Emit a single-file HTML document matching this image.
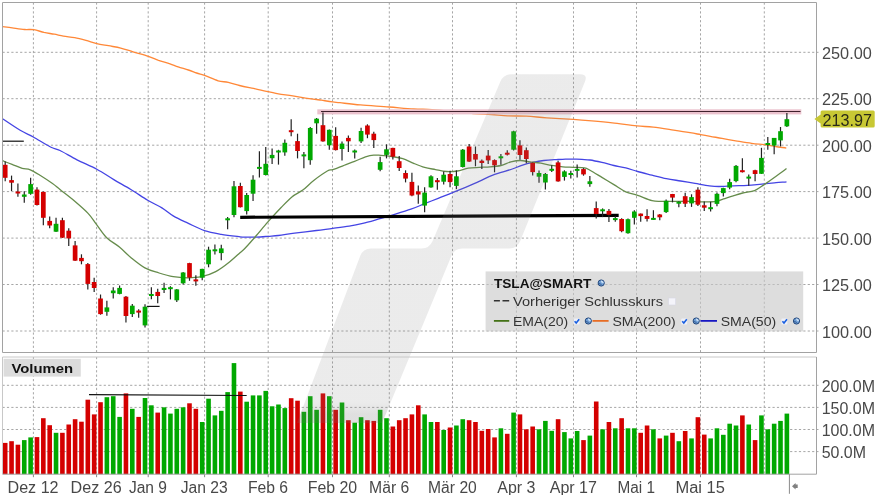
<!DOCTYPE html><html><head><meta charset="utf-8"><title>TSLA Chart</title>
<style>html,body{margin:0;padding:0;background:#fff;font-family:"Liberation Sans",sans-serif}svg{display:block;will-change:transform}</style></head><body>
<svg width="880" height="495" viewBox="0 0 880 495">
<defs><linearGradient id="wm" x1="0" y1="74" x2="0" y2="423" gradientUnits="userSpaceOnUse"><stop offset="0" stop-color="#808080" stop-opacity="0.155"/><stop offset="0.94" stop-color="#808080" stop-opacity="0.155"/><stop offset="0.975" stop-color="#707070" stop-opacity="0.22"/><stop offset="1" stop-color="#707070" stop-opacity="0.22"/></linearGradient></defs>
<rect width="880" height="495" fill="#fff"/>
<path d="M33.4 2.5V352.5M33.4 357.0V474.2M96.6 2.5V352.5M96.6 357.0V474.2M148.2 2.5V352.5M148.2 357.0V474.2M204.6 2.5V352.5M204.6 357.0V474.2M268.2 2.5V352.5M268.2 357.0V474.2M332.5 2.5V352.5M332.5 357.0V474.2M389.3 2.5V352.5M389.3 357.0V474.2M452.5 2.5V352.5M452.5 357.0V474.2M516.4 2.5V352.5M516.4 357.0V474.2M573.5 2.5V352.5M573.5 357.0V474.2M636.5 2.5V352.5M636.5 357.0V474.2M700.5 2.5V352.5M700.5 357.0V474.2M764.3 2.5V352.5M764.3 357.0V474.2M2.5 52.3H818.5M2.5 98.7H818.5M2.5 145.2H818.5M2.5 191.6H818.5M2.5 238.1H818.5M2.5 284.5H818.5M2.5 331.0H818.5M2.5 451.6H818.5M2.5 429.5H818.5M2.5 407.4H818.5M2.5 385.3H818.5" stroke="#a6a6a6" stroke-width="1" stroke-dasharray="2.2 2.2" fill="none"/>
<path d="M33.4 474.2v3M96.6 474.2v3M148.2 474.2v3M204.6 474.2v3M268.2 474.2v3M332.5 474.2v3M389.3 474.2v3M452.5 474.2v3M516.4 474.2v3M573.5 474.2v3M636.5 474.2v3M700.5 474.2v3" stroke="#888" stroke-width="1" fill="none"/>
<rect x="2.90" y="442.9" width="4.6" height="31.3" fill="#d40000"/>
<rect x="9.25" y="441.2" width="4.6" height="33.0" fill="#d40000"/>
<rect x="15.61" y="444.7" width="4.6" height="29.5" fill="#d40000"/>
<rect x="21.96" y="440.1" width="4.6" height="34.1" fill="#00a800"/>
<rect x="28.32" y="437.4" width="4.6" height="36.8" fill="#00a800"/>
<rect x="34.68" y="437.1" width="4.6" height="37.1" fill="#d40000"/>
<rect x="41.03" y="418.2" width="4.6" height="56.0" fill="#d40000"/>
<rect x="47.39" y="425.2" width="4.6" height="49.0" fill="#d40000"/>
<rect x="53.74" y="432.8" width="4.6" height="41.4" fill="#00a800"/>
<rect x="60.10" y="432.8" width="4.6" height="41.4" fill="#d40000"/>
<rect x="66.45" y="424.5" width="4.6" height="49.7" fill="#d40000"/>
<rect x="72.81" y="419.2" width="4.6" height="55.0" fill="#d40000"/>
<rect x="79.16" y="421.7" width="4.6" height="52.5" fill="#d40000"/>
<rect x="85.52" y="399.7" width="4.6" height="74.5" fill="#d40000"/>
<rect x="91.87" y="414.4" width="4.6" height="59.8" fill="#d40000"/>
<rect x="98.23" y="402.2" width="4.6" height="72.0" fill="#d40000"/>
<rect x="104.58" y="397.2" width="4.6" height="77.0" fill="#00a800"/>
<rect x="110.94" y="396.2" width="4.6" height="78.0" fill="#00a800"/>
<rect x="117.29" y="416.9" width="4.6" height="57.3" fill="#00a800"/>
<rect x="123.65" y="393.4" width="4.6" height="80.8" fill="#d40000"/>
<rect x="130.00" y="408.8" width="4.6" height="65.4" fill="#00a800"/>
<rect x="136.35" y="416.9" width="4.6" height="57.3" fill="#d40000"/>
<rect x="142.71" y="398.0" width="4.6" height="76.2" fill="#00a800"/>
<rect x="149.06" y="405.3" width="4.6" height="68.9" fill="#00a800"/>
<rect x="155.42" y="412.6" width="4.6" height="61.6" fill="#d40000"/>
<rect x="161.77" y="407.3" width="4.6" height="66.9" fill="#00a800"/>
<rect x="168.13" y="413.6" width="4.6" height="60.6" fill="#00a800"/>
<rect x="174.48" y="408.8" width="4.6" height="65.4" fill="#00a800"/>
<rect x="180.84" y="407.3" width="4.6" height="66.9" fill="#00a800"/>
<rect x="187.19" y="403.3" width="4.6" height="70.9" fill="#d40000"/>
<rect x="193.55" y="408.8" width="4.6" height="65.4" fill="#d40000"/>
<rect x="199.91" y="422.0" width="4.6" height="52.2" fill="#00a800"/>
<rect x="206.26" y="398.7" width="4.6" height="75.5" fill="#00a800"/>
<rect x="212.61" y="415.4" width="4.6" height="58.8" fill="#00a800"/>
<rect x="218.97" y="410.8" width="4.6" height="63.4" fill="#00a800"/>
<rect x="225.32" y="392.1" width="4.6" height="82.1" fill="#00a800"/>
<rect x="231.68" y="363.1" width="4.6" height="111.1" fill="#00a800"/>
<rect x="238.03" y="391.6" width="4.6" height="82.6" fill="#d40000"/>
<rect x="244.39" y="401.7" width="4.6" height="72.5" fill="#00a800"/>
<rect x="250.75" y="395.4" width="4.6" height="78.8" fill="#00a800"/>
<rect x="257.10" y="395.4" width="4.6" height="78.8" fill="#00a800"/>
<rect x="263.45" y="390.9" width="4.6" height="83.3" fill="#00a800"/>
<rect x="269.81" y="406.3" width="4.6" height="67.9" fill="#00a800"/>
<rect x="276.17" y="404.5" width="4.6" height="69.7" fill="#00a800"/>
<rect x="282.52" y="408.1" width="4.6" height="66.1" fill="#00a800"/>
<rect x="288.88" y="398.2" width="4.6" height="76.0" fill="#d40000"/>
<rect x="295.23" y="400.7" width="4.6" height="73.5" fill="#d40000"/>
<rect x="301.58" y="411.8" width="4.6" height="62.4" fill="#00a800"/>
<rect x="307.94" y="396.2" width="4.6" height="78.0" fill="#00a800"/>
<rect x="314.30" y="409.8" width="4.6" height="64.4" fill="#00a800"/>
<rect x="320.65" y="393.4" width="4.6" height="80.8" fill="#d40000"/>
<rect x="327.00" y="396.2" width="4.6" height="78.0" fill="#00a800"/>
<rect x="333.36" y="409.8" width="4.6" height="64.4" fill="#d40000"/>
<rect x="339.71" y="402.5" width="4.6" height="71.7" fill="#00a800"/>
<rect x="346.07" y="420.2" width="4.6" height="54.0" fill="#d40000"/>
<rect x="352.43" y="422.7" width="4.6" height="51.5" fill="#00a800"/>
<rect x="358.78" y="417.2" width="4.6" height="57.0" fill="#00a800"/>
<rect x="365.13" y="420.2" width="4.6" height="54.0" fill="#d40000"/>
<rect x="371.49" y="420.9" width="4.6" height="53.3" fill="#d40000"/>
<rect x="377.85" y="409.8" width="4.6" height="64.4" fill="#00a800"/>
<rect x="384.20" y="418.2" width="4.6" height="56.0" fill="#00a800"/>
<rect x="390.56" y="426.5" width="4.6" height="47.7" fill="#d40000"/>
<rect x="396.91" y="420.2" width="4.6" height="54.0" fill="#d40000"/>
<rect x="403.26" y="418.2" width="4.6" height="56.0" fill="#d40000"/>
<rect x="409.62" y="414.4" width="4.6" height="59.8" fill="#d40000"/>
<rect x="415.98" y="405.3" width="4.6" height="68.9" fill="#d40000"/>
<rect x="422.33" y="414.4" width="4.6" height="59.8" fill="#00a800"/>
<rect x="428.69" y="422.0" width="4.6" height="52.2" fill="#00a800"/>
<rect x="435.04" y="422.0" width="4.6" height="52.2" fill="#d40000"/>
<rect x="441.39" y="430.0" width="4.6" height="44.2" fill="#00a800"/>
<rect x="447.75" y="427.5" width="4.6" height="46.7" fill="#d40000"/>
<rect x="454.11" y="425.5" width="4.6" height="48.7" fill="#00a800"/>
<rect x="460.46" y="419.2" width="4.6" height="55.0" fill="#00a800"/>
<rect x="466.81" y="420.2" width="4.6" height="54.0" fill="#d40000"/>
<rect x="473.17" y="422.0" width="4.6" height="52.2" fill="#d40000"/>
<rect x="479.53" y="430.8" width="4.6" height="43.4" fill="#d40000"/>
<rect x="485.88" y="429.0" width="4.6" height="45.2" fill="#d40000"/>
<rect x="492.24" y="437.4" width="4.6" height="36.8" fill="#d40000"/>
<rect x="498.59" y="428.3" width="4.6" height="45.9" fill="#00a800"/>
<rect x="504.94" y="433.8" width="4.6" height="40.4" fill="#d40000"/>
<rect x="511.30" y="412.6" width="4.6" height="61.6" fill="#00a800"/>
<rect x="517.66" y="414.4" width="4.6" height="59.8" fill="#d40000"/>
<rect x="524.01" y="429.3" width="4.6" height="44.9" fill="#d40000"/>
<rect x="530.37" y="426.5" width="4.6" height="47.7" fill="#d40000"/>
<rect x="536.72" y="429.3" width="4.6" height="44.9" fill="#00a800"/>
<rect x="543.08" y="420.9" width="4.6" height="53.3" fill="#00a800"/>
<rect x="549.43" y="430.8" width="4.6" height="43.4" fill="#00a800"/>
<rect x="555.79" y="419.2" width="4.6" height="55.0" fill="#d40000"/>
<rect x="562.14" y="432.1" width="4.6" height="42.1" fill="#00a800"/>
<rect x="568.50" y="438.4" width="4.6" height="35.8" fill="#00a800"/>
<rect x="574.85" y="431.0" width="4.6" height="43.2" fill="#00a800"/>
<rect x="581.21" y="440.1" width="4.6" height="34.1" fill="#d40000"/>
<rect x="587.56" y="435.6" width="4.6" height="38.6" fill="#00a800"/>
<rect x="593.92" y="401.5" width="4.6" height="72.7" fill="#d40000"/>
<rect x="600.27" y="429.3" width="4.6" height="44.9" fill="#00a800"/>
<rect x="606.63" y="422.0" width="4.6" height="52.2" fill="#d40000"/>
<rect x="612.98" y="428.3" width="4.6" height="45.9" fill="#00a800"/>
<rect x="619.34" y="418.2" width="4.6" height="56.0" fill="#d40000"/>
<rect x="625.69" y="428.3" width="4.6" height="45.9" fill="#00a800"/>
<rect x="632.05" y="428.3" width="4.6" height="45.9" fill="#00a800"/>
<rect x="638.40" y="432.8" width="4.6" height="41.4" fill="#d40000"/>
<rect x="644.76" y="425.5" width="4.6" height="48.7" fill="#d40000"/>
<rect x="651.11" y="429.3" width="4.6" height="44.9" fill="#00a800"/>
<rect x="657.47" y="438.4" width="4.6" height="35.8" fill="#d40000"/>
<rect x="663.82" y="435.6" width="4.6" height="38.6" fill="#00a800"/>
<rect x="670.18" y="432.8" width="4.6" height="41.4" fill="#d40000"/>
<rect x="676.53" y="441.2" width="4.6" height="33.0" fill="#00a800"/>
<rect x="682.89" y="431.0" width="4.6" height="43.2" fill="#d40000"/>
<rect x="689.24" y="438.4" width="4.6" height="35.8" fill="#00a800"/>
<rect x="695.60" y="417.2" width="4.6" height="57.0" fill="#d40000"/>
<rect x="701.95" y="434.6" width="4.6" height="39.6" fill="#d40000"/>
<rect x="708.31" y="438.4" width="4.6" height="35.8" fill="#00a800"/>
<rect x="714.66" y="428.3" width="4.6" height="45.9" fill="#00a800"/>
<rect x="721.02" y="434.8" width="4.6" height="39.4" fill="#00a800"/>
<rect x="727.37" y="423.7" width="4.6" height="50.5" fill="#00a800"/>
<rect x="733.73" y="425.5" width="4.6" height="48.7" fill="#00a800"/>
<rect x="740.08" y="415.4" width="4.6" height="58.8" fill="#d40000"/>
<rect x="746.44" y="424.5" width="4.6" height="49.7" fill="#00a800"/>
<rect x="752.79" y="440.1" width="4.6" height="34.1" fill="#d40000"/>
<rect x="759.15" y="415.4" width="4.6" height="58.8" fill="#00a800"/>
<rect x="765.50" y="429.3" width="4.6" height="44.9" fill="#00a800"/>
<rect x="771.86" y="423.7" width="4.6" height="50.5" fill="#00a800"/>
<rect x="778.21" y="420.9" width="4.6" height="53.3" fill="#00a800"/>
<rect x="784.57" y="413.6" width="4.6" height="60.6" fill="#00a800"/>
<path d="M2.5 26.7C4.1 26.9 8.6 27.4 12.3 27.9C16.0 28.4 20.9 29.2 24.5 29.5C28.1 29.8 30.5 29.2 33.7 29.7C37.0 30.2 40.6 31.6 44.0 32.4C47.4 33.1 51.0 33.6 54.2 34.2C57.4 34.8 60.0 35.5 63.4 36.1C66.8 36.7 71.0 37.0 74.7 37.7C78.5 38.4 82.2 39.4 85.9 40.4C89.6 41.4 93.0 42.7 96.7 43.6C100.5 44.5 104.4 45.0 108.4 45.7C112.4 46.5 116.6 47.1 120.7 48.1C124.8 49.1 128.4 50.4 133.0 51.8C137.6 53.2 144.1 54.9 148.3 56.3C152.6 57.7 154.9 59.1 158.5 60.4C162.1 61.6 166.7 62.7 170.0 63.8C173.3 64.9 175.1 65.9 178.2 66.9C181.3 67.9 185.3 69.0 188.4 70.0C191.5 71.0 193.8 72.0 196.6 73.0C199.4 74.0 201.6 74.4 205.2 75.7C208.8 77.0 214.2 79.7 218.1 80.8C221.9 81.9 224.7 81.6 228.3 82.4C231.9 83.2 235.6 84.5 239.5 85.5C243.4 86.5 247.0 87.2 251.8 88.2C256.6 89.2 263.8 90.6 268.2 91.6C272.6 92.5 274.3 93.2 278.4 93.9C282.5 94.6 287.6 95.1 292.7 95.9C297.8 96.7 304.3 97.9 309.1 98.6C313.9 99.3 317.5 99.7 321.4 100.2C325.3 100.8 329.5 101.5 332.6 101.9C335.7 102.3 335.4 102.2 340.0 102.7C344.6 103.2 352.3 104.2 360.5 104.9C368.7 105.6 380.2 106.3 389.1 107.0C398.0 107.7 406.5 108.6 413.6 109.0C420.8 109.4 425.5 109.2 432.0 109.6C438.5 110.0 445.7 110.8 452.5 111.5C459.3 112.2 466.5 113.0 473.0 113.5C479.5 114.0 485.6 114.1 491.4 114.5C497.2 114.9 501.9 115.5 507.7 115.8C513.5 116.1 519.9 115.9 526.4 116.2C532.9 116.5 539.0 117.3 546.8 117.8C554.6 118.3 565.9 118.9 573.4 119.4C580.9 119.9 585.3 120.3 591.8 120.9C598.3 121.5 604.8 122.1 612.3 122.9C619.8 123.7 630.0 125.1 636.8 125.8C643.6 126.5 647.1 126.5 653.2 127.2C659.3 127.9 667.5 129.2 673.6 130.1C679.7 131.0 685.5 131.9 690.0 132.7C694.5 133.4 697.3 134.0 700.7 134.6C704.1 135.2 706.7 135.7 710.2 136.3C713.8 136.9 717.8 137.7 722.0 138.4C726.2 139.2 730.8 140.0 735.7 140.8C740.6 141.6 746.8 142.7 751.6 143.3C756.4 144.0 760.3 144.2 764.3 144.7C768.3 145.2 771.8 145.9 775.5 146.5C779.2 147.1 784.5 147.8 786.3 148.1" stroke="#ff8838" stroke-width="1.35" fill="none" stroke-linejoin="round"/>
<path d="M2.5 118.7C5.4 120.6 15.1 127.3 20.2 130.3C25.3 133.4 28.2 134.2 33.3 137.0C38.3 139.8 46.0 144.8 50.5 147.0C55.0 149.2 55.6 148.4 60.0 150.5C64.4 152.6 70.9 156.7 77.0 159.8C83.1 162.9 90.7 165.9 96.8 169.2C102.9 172.5 108.1 176.2 113.8 179.6C119.5 183.0 125.2 186.1 130.8 189.5C136.5 192.9 142.5 197.2 147.7 200.3C152.9 203.4 157.7 205.3 161.9 207.9C166.2 210.5 168.9 213.4 173.2 215.9C177.4 218.4 182.2 220.5 187.4 222.9C192.6 225.3 198.8 228.7 204.4 230.6C210.1 232.5 215.4 233.3 221.3 234.3C227.2 235.3 236.0 236.3 240.0 236.8C244.0 237.3 242.8 237.1 245.5 237.1C248.2 237.1 252.7 237.2 256.4 237.1C260.1 237.0 264.2 236.6 267.9 236.3C271.5 236.0 273.9 236.0 278.3 235.5C282.8 235.0 288.2 234.0 294.6 233.2C301.0 232.4 310.0 231.3 316.4 230.5C322.8 229.7 327.3 229.0 332.8 228.3C338.3 227.6 344.2 226.9 349.2 226.1C354.2 225.3 357.7 224.6 362.8 223.4C367.9 222.2 375.6 219.9 380.0 218.7C384.4 217.5 384.0 217.6 389.1 216.0C394.2 214.4 405.0 211.2 410.9 209.2C416.8 207.1 420.1 205.5 424.6 203.7C429.2 201.9 433.6 200.1 438.2 198.3C442.8 196.5 447.3 194.6 451.9 192.8C456.4 191.0 460.9 189.2 465.5 187.3C470.1 185.4 474.6 183.3 479.2 181.3C483.8 179.3 487.5 177.1 492.8 175.1C498.1 173.1 506.1 171.1 510.9 169.5C515.7 167.9 518.1 166.6 521.8 165.4C525.4 164.2 529.1 163.2 532.8 162.4C536.4 161.6 540.1 160.9 543.7 160.5C547.3 160.1 551.0 159.9 554.6 159.7C558.2 159.5 562.3 159.2 565.5 159.1C568.7 159.0 571.0 159.0 573.7 159.1C576.4 159.2 579.2 159.2 581.9 159.4C584.6 159.6 586.7 159.5 590.0 160.0C593.3 160.5 597.9 161.5 601.9 162.4C605.9 163.3 609.9 164.6 613.9 165.5C617.9 166.4 621.8 166.9 625.8 167.9C629.8 168.9 633.3 170.3 637.7 171.5C642.1 172.7 647.2 173.9 652.0 175.1C656.8 176.3 661.6 177.6 666.4 178.6C671.2 179.6 675.9 180.2 680.7 181.0C685.5 181.8 690.2 182.6 695.0 183.4C699.8 184.2 705.3 185.3 709.3 185.8C713.3 186.3 714.9 186.5 718.9 186.5C722.9 186.5 728.4 186.0 733.2 185.8C738.0 185.6 742.7 185.6 747.5 185.3C752.3 185.0 757.0 184.5 761.8 184.1C766.6 183.7 772.0 183.1 776.1 182.7C780.2 182.3 784.8 182.0 786.5 181.8" stroke="#4444e4" stroke-width="1.3" fill="none" stroke-linejoin="round"/>
<path d="M2.4 160.7C4.0 161.3 8.8 163.0 12.1 164.3C15.4 165.6 19.2 167.5 22.2 168.4C25.2 169.3 27.3 168.6 30.3 169.8C33.3 171.0 36.7 173.2 40.4 175.5C44.1 177.8 49.2 181.2 52.5 183.5C55.8 185.8 56.4 186.6 60.0 189.5C63.6 192.4 69.5 196.8 74.2 200.8C78.9 204.8 84.5 209.6 88.3 213.6C92.1 217.6 93.7 220.9 96.8 224.9C99.9 228.9 102.9 234.0 106.7 237.7C110.5 241.4 115.4 243.7 119.4 247.0C123.4 250.3 126.6 254.0 130.8 257.5C135.1 261.0 140.2 265.3 144.9 267.9C149.6 270.5 154.4 271.5 159.1 273.0C163.8 274.5 168.5 275.9 173.2 276.7C177.9 277.5 182.7 277.8 187.4 277.8C192.1 277.8 196.8 277.7 201.5 276.7C206.2 275.7 211.0 274.1 215.7 271.6C220.4 269.1 225.8 264.9 229.8 261.7C233.9 258.5 237.4 255.0 240.0 252.7C242.6 250.4 242.8 250.7 245.5 247.8C248.2 244.9 252.7 239.8 256.4 235.5C260.1 231.2 263.8 226.5 267.9 221.9C272.0 217.3 276.9 212.0 280.9 207.8C284.9 203.6 288.2 199.9 291.9 196.9C295.5 193.9 299.2 192.8 302.8 190.1C306.4 187.4 309.6 183.7 313.7 180.5C317.8 177.3 324.1 172.8 327.3 171.0C330.5 169.2 330.1 170.5 332.8 169.6C335.5 168.7 340.1 166.9 343.7 165.5C347.3 164.1 351.0 162.8 354.6 161.4C358.2 160.0 362.3 157.9 365.5 156.8C368.7 155.8 371.1 155.3 373.7 155.1C376.3 154.9 377.9 155.2 380.9 155.4C383.9 155.6 388.1 155.9 391.8 156.5C395.5 157.1 399.2 157.6 402.8 158.7C406.4 159.8 410.1 161.9 413.7 163.3C417.3 164.8 421.0 166.4 424.6 167.4C428.2 168.4 431.9 168.9 435.5 169.6C439.1 170.3 442.8 171.3 446.4 171.5C450.0 171.7 453.6 171.6 457.3 171.0C461.0 170.4 464.7 168.8 468.3 168.2C471.9 167.6 475.6 167.6 479.2 167.4C482.8 167.2 486.5 167.2 490.1 166.9C493.7 166.6 497.5 166.3 501.0 165.5C504.5 164.7 507.6 162.7 510.9 161.9C514.1 161.1 517.3 160.5 520.5 160.5C523.7 160.5 526.6 161.5 530.0 161.9C533.4 162.3 537.2 162.6 540.9 163.2C544.5 163.8 548.2 164.8 551.9 165.4C555.5 166.0 559.2 166.5 562.8 166.8C566.4 167.1 570.1 167.1 573.7 167.3C577.3 167.5 581.9 167.4 584.6 167.9C587.3 168.4 587.1 168.7 590.0 170.3C592.9 171.9 597.9 175.0 601.9 177.4C605.9 179.8 609.9 182.2 613.9 184.6C617.9 187.0 621.8 190.0 625.8 191.8C629.8 193.6 633.3 193.8 637.7 195.3C642.1 196.8 648.0 199.6 652.0 200.6C656.0 201.6 657.6 201.2 661.6 201.3C665.6 201.4 671.1 201.3 675.9 201.3C680.7 201.3 685.4 201.2 690.2 201.3C695.0 201.4 700.1 201.8 704.5 201.8C708.9 201.8 713.3 201.8 716.5 201.3C719.7 200.8 720.8 199.8 723.6 198.9C726.4 198.0 730.0 196.8 733.2 195.8C736.4 194.8 739.1 193.9 742.7 193.0C746.3 192.1 751.0 192.0 754.6 190.6C758.2 189.2 760.6 187.0 764.2 184.6C767.8 182.2 772.4 179.0 776.1 176.3C779.8 173.6 784.8 169.9 786.5 168.6" stroke="#668c4c" stroke-width="1.3" fill="none" stroke-linejoin="round"/>
<rect x="317.3" y="109.3" width="484" height="5.1" fill="#ebc2ce"/>
<path d="M321 111.5H800.5" stroke="#40202c" stroke-width="1.2"/>
<path d="M240.2 217.3L618.7 215.4" stroke="#000" stroke-width="3.2"/>
<path d="M2.5 141.2H23.8" stroke="#111" stroke-width="1.2"/>
<path d="M146.8 306.4H159.6" stroke="#111" stroke-width="1.2"/>
<path d="M89 394.6L246.7 395.5" stroke="#111" stroke-width="1.2"/>
<path d="M5.20 161.4V181.3" stroke="#222" stroke-width="1.2"/>
<rect x="2.85" y="164.8" width="4.7" height="13.0" fill="#d40000"/>
<path d="M11.55 175.6V191.0" stroke="#222" stroke-width="1.2"/>
<rect x="9.21" y="180.1" width="4.7" height="2.6" fill="#d40000"/>
<path d="M17.91 183.5V196.8" stroke="#222" stroke-width="1.2"/>
<rect x="15.56" y="191.5" width="4.7" height="2.0" fill="#d40000"/>
<path d="M24.27 191.3V202.7" stroke="#222" stroke-width="1.2"/>
<rect x="21.91" y="194.5" width="4.7" height="2.3" fill="#00a800"/>
<path d="M30.62 177.7V194.7" stroke="#222" stroke-width="1.2"/>
<rect x="28.27" y="184.1" width="4.7" height="9.7" fill="#00a800"/>
<path d="M36.98 187.2V205.5" stroke="#222" stroke-width="1.2"/>
<rect x="34.62" y="189.6" width="4.7" height="15.4" fill="#d40000"/>
<path d="M43.33 191.6V225.3" stroke="#222" stroke-width="1.2"/>
<rect x="40.98" y="191.9" width="4.7" height="25.9" fill="#d40000"/>
<path d="M49.69 216.5V228.2" stroke="#222" stroke-width="1.2"/>
<rect x="47.34" y="220.9" width="4.7" height="4.6" fill="#d40000"/>
<path d="M56.04 217.8V232.0" stroke="#222" stroke-width="1.2"/>
<rect x="53.69" y="223.8" width="4.7" height="7.9" fill="#00a800"/>
<path d="M62.40 217.7V238.0" stroke="#222" stroke-width="1.2"/>
<rect x="60.05" y="220.2" width="4.7" height="17.5" fill="#d40000"/>
<path d="M68.75 228.3V245.9" stroke="#222" stroke-width="1.2"/>
<rect x="66.40" y="230.7" width="4.7" height="7.7" fill="#d40000"/>
<path d="M75.11 240.9V261.0" stroke="#222" stroke-width="1.2"/>
<rect x="72.76" y="245.4" width="4.7" height="15.3" fill="#d40000"/>
<path d="M81.46 254.3V264.3" stroke="#222" stroke-width="1.2"/>
<rect x="79.11" y="257.9" width="4.7" height="3.3" fill="#d40000"/>
<path d="M87.82 262.9V289.6" stroke="#222" stroke-width="1.2"/>
<rect x="85.47" y="264.1" width="4.7" height="19.8" fill="#d40000"/>
<path d="M94.17 277.8V291.9" stroke="#222" stroke-width="1.2"/>
<rect x="91.82" y="282.0" width="4.7" height="6.0" fill="#d40000"/>
<path d="M100.53 294.5V314.7" stroke="#222" stroke-width="1.2"/>
<rect x="98.18" y="298.5" width="4.7" height="15.6" fill="#d40000"/>
<path d="M106.88 300.8V315.7" stroke="#222" stroke-width="1.2"/>
<rect x="104.53" y="307.4" width="4.7" height="4.4" fill="#00a800"/>
<path d="M113.24 287.2V298.5" stroke="#222" stroke-width="1.2"/>
<rect x="110.89" y="290.5" width="4.7" height="2.7" fill="#00a800"/>
<path d="M119.59 285.5V294.3" stroke="#222" stroke-width="1.2"/>
<rect x="117.24" y="287.9" width="4.7" height="6.0" fill="#00a800"/>
<path d="M125.95 296.1V322.4" stroke="#222" stroke-width="1.2"/>
<rect x="123.60" y="296.7" width="4.7" height="19.3" fill="#d40000"/>
<path d="M132.30 303.9V317.0" stroke="#222" stroke-width="1.2"/>
<rect x="129.95" y="305.7" width="4.7" height="8.4" fill="#00a800"/>
<path d="M138.66 309.2V317.7" stroke="#222" stroke-width="1.2"/>
<rect x="136.31" y="310.6" width="4.7" height="2.0" fill="#d40000"/>
<path d="M145.01 304.3V327.6" stroke="#222" stroke-width="1.2"/>
<rect x="142.66" y="306.7" width="4.7" height="18.7" fill="#00a800"/>
<path d="M151.37 287.3V299.2" stroke="#222" stroke-width="1.2"/>
<rect x="149.02" y="294.0" width="4.7" height="2.0" fill="#00a800"/>
<path d="M157.72 288.7V303.3" stroke="#222" stroke-width="1.2"/>
<rect x="155.37" y="291.9" width="4.7" height="4.1" fill="#d40000"/>
<path d="M164.07 282.8V292.9" stroke="#222" stroke-width="1.2"/>
<rect x="161.72" y="287.9" width="4.7" height="2.1" fill="#00a800"/>
<path d="M170.43 286.2V299.4" stroke="#222" stroke-width="1.2"/>
<rect x="168.08" y="287.2" width="4.7" height="2.0" fill="#00a800"/>
<path d="M176.78 289.0V302.0" stroke="#222" stroke-width="1.2"/>
<rect x="174.44" y="289.4" width="4.7" height="10.9" fill="#00a800"/>
<path d="M183.14 272.1V284.5" stroke="#222" stroke-width="1.2"/>
<rect x="180.79" y="272.5" width="4.7" height="10.8" fill="#00a800"/>
<path d="M189.50 262.8V280.8" stroke="#222" stroke-width="1.2"/>
<rect x="187.15" y="263.1" width="4.7" height="14.5" fill="#d40000"/>
<path d="M195.85 275.3V285.8" stroke="#222" stroke-width="1.2"/>
<rect x="193.50" y="279.4" width="4.7" height="2.0" fill="#d40000"/>
<path d="M202.21 268.7V280.2" stroke="#222" stroke-width="1.2"/>
<rect x="199.86" y="268.9" width="4.7" height="8.8" fill="#00a800"/>
<path d="M208.56 246.7V267.3" stroke="#222" stroke-width="1.2"/>
<rect x="206.21" y="249.7" width="4.7" height="14.6" fill="#00a800"/>
<path d="M214.91 244.6V254.6" stroke="#222" stroke-width="1.2"/>
<rect x="212.56" y="249.3" width="4.7" height="2.0" fill="#00a800"/>
<path d="M221.27 244.8V260.3" stroke="#222" stroke-width="1.2"/>
<rect x="218.92" y="248.4" width="4.7" height="4.7" fill="#00a800"/>
<path d="M227.62 216.9V229.3" stroke="#222" stroke-width="1.2"/>
<rect x="225.28" y="218.3" width="4.7" height="2.0" fill="#00a800"/>
<path d="M233.98 181.1V217.3" stroke="#222" stroke-width="1.2"/>
<rect x="231.63" y="186.3" width="4.7" height="28.7" fill="#00a800"/>
<path d="M240.34 182.8V207.4" stroke="#222" stroke-width="1.2"/>
<rect x="237.99" y="186.0" width="4.7" height="21.2" fill="#d40000"/>
<path d="M246.69 193.0V214.4" stroke="#222" stroke-width="1.2"/>
<rect x="244.34" y="195.0" width="4.7" height="16.1" fill="#00a800"/>
<path d="M253.05 175.3V201.1" stroke="#222" stroke-width="1.2"/>
<rect x="250.70" y="179.7" width="4.7" height="14.0" fill="#00a800"/>
<path d="M259.40 151.2V177.5" stroke="#222" stroke-width="1.2"/>
<rect x="257.05" y="166.9" width="4.7" height="2.0" fill="#00a800"/>
<path d="M265.75 147.1V175.5" stroke="#222" stroke-width="1.2"/>
<rect x="263.40" y="163.8" width="4.7" height="11.2" fill="#00a800"/>
<path d="M272.11 148.6V163.9" stroke="#222" stroke-width="1.2"/>
<rect x="269.76" y="154.9" width="4.7" height="3.3" fill="#00a800"/>
<path d="M278.47 149.8V164.6" stroke="#222" stroke-width="1.2"/>
<rect x="276.12" y="150.5" width="4.7" height="2.0" fill="#00a800"/>
<path d="M284.82 139.6V155.8" stroke="#222" stroke-width="1.2"/>
<rect x="282.47" y="142.8" width="4.7" height="9.6" fill="#00a800"/>
<path d="M291.18 119.2V136.3" stroke="#222" stroke-width="1.2"/>
<rect x="288.82" y="130.2" width="4.7" height="2.0" fill="#d40000"/>
<path d="M297.53 133.7V158.4" stroke="#222" stroke-width="1.2"/>
<rect x="295.18" y="141.1" width="4.7" height="9.9" fill="#d40000"/>
<path d="M303.88 152.1V168.2" stroke="#222" stroke-width="1.2"/>
<rect x="301.53" y="154.4" width="4.7" height="2.0" fill="#00a800"/>
<path d="M310.24 127.0V164.8" stroke="#222" stroke-width="1.2"/>
<rect x="307.89" y="128.0" width="4.7" height="32.2" fill="#00a800"/>
<path d="M316.60 118.0V133.8" stroke="#222" stroke-width="1.2"/>
<rect x="314.25" y="118.7" width="4.7" height="4.6" fill="#00a800"/>
<path d="M322.95 112.4V141.8" stroke="#222" stroke-width="1.2"/>
<rect x="320.60" y="125.2" width="4.7" height="16.2" fill="#d40000"/>
<path d="M329.31 129.5V149.8" stroke="#222" stroke-width="1.2"/>
<rect x="326.95" y="129.8" width="4.7" height="15.5" fill="#00a800"/>
<path d="M335.66 127.2V150.4" stroke="#222" stroke-width="1.2"/>
<rect x="333.31" y="135.9" width="4.7" height="14.2" fill="#d40000"/>
<path d="M342.01 141.5V160.5" stroke="#222" stroke-width="1.2"/>
<rect x="339.66" y="143.6" width="4.7" height="5.4" fill="#00a800"/>
<path d="M348.37 135.6V152.0" stroke="#222" stroke-width="1.2"/>
<rect x="346.02" y="137.9" width="4.7" height="3.4" fill="#d40000"/>
<path d="M354.73 149.5V158.6" stroke="#222" stroke-width="1.2"/>
<rect x="352.38" y="150.5" width="4.7" height="2.0" fill="#00a800"/>
<path d="M361.08 127.7V142.9" stroke="#222" stroke-width="1.2"/>
<rect x="358.73" y="131.0" width="4.7" height="10.4" fill="#00a800"/>
<path d="M367.44 124.3V138.2" stroke="#222" stroke-width="1.2"/>
<rect x="365.08" y="125.5" width="4.7" height="9.1" fill="#d40000"/>
<path d="M373.79 131.8V147.9" stroke="#222" stroke-width="1.2"/>
<rect x="371.44" y="133.7" width="4.7" height="6.4" fill="#d40000"/>
<path d="M380.15 156.8V171.2" stroke="#222" stroke-width="1.2"/>
<rect x="377.80" y="162.1" width="4.7" height="7.7" fill="#00a800"/>
<path d="M386.50 144.3V158.4" stroke="#222" stroke-width="1.2"/>
<rect x="384.15" y="149.3" width="4.7" height="5.6" fill="#00a800"/>
<path d="M392.86 147.8V159.5" stroke="#222" stroke-width="1.2"/>
<rect x="390.50" y="147.9" width="4.7" height="8.8" fill="#d40000"/>
<path d="M399.21 156.0V171.0" stroke="#222" stroke-width="1.2"/>
<rect x="396.86" y="161.2" width="4.7" height="6.8" fill="#d40000"/>
<path d="M405.56 170.3V182.4" stroke="#222" stroke-width="1.2"/>
<rect x="403.21" y="173.0" width="4.7" height="5.6" fill="#d40000"/>
<path d="M411.92 172.7V196.3" stroke="#222" stroke-width="1.2"/>
<rect x="409.57" y="181.9" width="4.7" height="13.6" fill="#d40000"/>
<path d="M418.28 185.5V203.8" stroke="#222" stroke-width="1.2"/>
<rect x="415.93" y="191.4" width="4.7" height="3.1" fill="#d40000"/>
<path d="M424.63 187.3V212.3" stroke="#222" stroke-width="1.2"/>
<rect x="422.28" y="192.6" width="4.7" height="13.0" fill="#00a800"/>
<path d="M430.99 175.3V187.7" stroke="#222" stroke-width="1.2"/>
<rect x="428.63" y="176.3" width="4.7" height="11.1" fill="#00a800"/>
<path d="M437.34 178.0V189.7" stroke="#222" stroke-width="1.2"/>
<rect x="434.99" y="180.2" width="4.7" height="2.0" fill="#d40000"/>
<path d="M443.69 171.6V184.5" stroke="#222" stroke-width="1.2"/>
<rect x="441.34" y="174.7" width="4.7" height="7.0" fill="#00a800"/>
<path d="M450.05 170.8V187.3" stroke="#222" stroke-width="1.2"/>
<rect x="447.70" y="174.0" width="4.7" height="8.1" fill="#d40000"/>
<path d="M456.41 170.4V189.1" stroke="#222" stroke-width="1.2"/>
<rect x="454.06" y="176.3" width="4.7" height="9.6" fill="#00a800"/>
<path d="M462.76 148.9V167.4" stroke="#222" stroke-width="1.2"/>
<rect x="460.41" y="149.7" width="4.7" height="17.3" fill="#00a800"/>
<path d="M469.12 144.0V162.0" stroke="#222" stroke-width="1.2"/>
<rect x="466.76" y="146.5" width="4.7" height="15.1" fill="#d40000"/>
<path d="M475.47 146.5V166.3" stroke="#222" stroke-width="1.2"/>
<rect x="473.12" y="154.0" width="4.7" height="5.6" fill="#d40000"/>
<path d="M481.83 159.4V169.1" stroke="#222" stroke-width="1.2"/>
<rect x="479.48" y="160.7" width="4.7" height="2.3" fill="#d40000"/>
<path d="M488.18 150.0V163.9" stroke="#222" stroke-width="1.2"/>
<rect x="485.83" y="155.6" width="4.7" height="4.8" fill="#d40000"/>
<path d="M494.54 159.4V172.3" stroke="#222" stroke-width="1.2"/>
<rect x="492.19" y="160.1" width="4.7" height="5.2" fill="#d40000"/>
<path d="M500.89 154.0V164.8" stroke="#222" stroke-width="1.2"/>
<rect x="498.54" y="156.3" width="4.7" height="2.0" fill="#00a800"/>
<path d="M507.25 150.2V155.6" stroke="#222" stroke-width="1.2"/>
<rect x="504.89" y="152.7" width="4.7" height="2.0" fill="#d40000"/>
<path d="M513.60 130.7V150.4" stroke="#222" stroke-width="1.2"/>
<rect x="511.25" y="131.3" width="4.7" height="18.4" fill="#00a800"/>
<path d="M519.96 140.2V159.7" stroke="#222" stroke-width="1.2"/>
<rect x="517.61" y="145.4" width="4.7" height="9.6" fill="#d40000"/>
<path d="M526.31 147.5V163.2" stroke="#222" stroke-width="1.2"/>
<rect x="523.96" y="150.2" width="4.7" height="8.8" fill="#d40000"/>
<path d="M532.67 162.5V175.4" stroke="#222" stroke-width="1.2"/>
<rect x="530.32" y="162.8" width="4.7" height="9.3" fill="#d40000"/>
<path d="M539.02 170.5V182.8" stroke="#222" stroke-width="1.2"/>
<rect x="536.67" y="173.0" width="4.7" height="3.7" fill="#00a800"/>
<path d="M545.38 172.9V189.6" stroke="#222" stroke-width="1.2"/>
<rect x="543.03" y="174.0" width="4.7" height="8.5" fill="#00a800"/>
<path d="M551.73 165.3V171.9" stroke="#222" stroke-width="1.2"/>
<rect x="549.38" y="168.8" width="4.7" height="2.0" fill="#00a800"/>
<path d="M558.09 160.8V181.8" stroke="#222" stroke-width="1.2"/>
<rect x="555.74" y="162.4" width="4.7" height="19.0" fill="#d40000"/>
<path d="M564.44 170.3V180.6" stroke="#222" stroke-width="1.2"/>
<rect x="562.09" y="171.4" width="4.7" height="5.5" fill="#00a800"/>
<path d="M570.80 170.7V178.6" stroke="#222" stroke-width="1.2"/>
<rect x="568.45" y="173.0" width="4.7" height="2.0" fill="#00a800"/>
<path d="M577.15 164.4V177.4" stroke="#222" stroke-width="1.2"/>
<rect x="574.80" y="168.9" width="4.7" height="2.0" fill="#00a800"/>
<path d="M583.51 168.1V175.7" stroke="#222" stroke-width="1.2"/>
<rect x="581.16" y="169.1" width="4.7" height="5.3" fill="#d40000"/>
<path d="M589.86 175.9V186.7" stroke="#222" stroke-width="1.2"/>
<rect x="587.51" y="181.3" width="4.7" height="2.8" fill="#00a800"/>
<path d="M596.22 201.5V218.5" stroke="#222" stroke-width="1.2"/>
<rect x="593.87" y="208.1" width="4.7" height="5.9" fill="#d40000"/>
<path d="M602.57 208.4V217.1" stroke="#222" stroke-width="1.2"/>
<rect x="600.22" y="209.3" width="4.7" height="2.0" fill="#00a800"/>
<path d="M608.93 209.0V222.1" stroke="#222" stroke-width="1.2"/>
<rect x="606.58" y="210.9" width="4.7" height="3.9" fill="#d40000"/>
<path d="M615.28 215.9V221.8" stroke="#222" stroke-width="1.2"/>
<rect x="612.93" y="218.1" width="4.7" height="2.0" fill="#00a800"/>
<path d="M621.64 218.3V232.3" stroke="#222" stroke-width="1.2"/>
<rect x="619.29" y="219.0" width="4.7" height="12.2" fill="#d40000"/>
<path d="M627.99 218.6V233.7" stroke="#222" stroke-width="1.2"/>
<rect x="625.64" y="219.2" width="4.7" height="14.0" fill="#00a800"/>
<path d="M634.35 210.2V224.5" stroke="#222" stroke-width="1.2"/>
<rect x="632.00" y="211.5" width="4.7" height="6.3" fill="#00a800"/>
<path d="M640.70 213.4V221.7" stroke="#222" stroke-width="1.2"/>
<rect x="638.35" y="213.6" width="4.7" height="2.5" fill="#d40000"/>
<path d="M647.06 209.3V221.5" stroke="#222" stroke-width="1.2"/>
<rect x="644.71" y="216.0" width="4.7" height="2.9" fill="#d40000"/>
<path d="M653.41 210.2V219.7" stroke="#222" stroke-width="1.2"/>
<rect x="651.06" y="217.9" width="4.7" height="2.0" fill="#00a800"/>
<path d="M659.77 214.0V220.2" stroke="#222" stroke-width="1.2"/>
<rect x="657.42" y="214.5" width="4.7" height="2.8" fill="#d40000"/>
<path d="M666.12 199.5V213.0" stroke="#222" stroke-width="1.2"/>
<rect x="663.77" y="200.8" width="4.7" height="11.3" fill="#00a800"/>
<path d="M672.48 193.9V202.4" stroke="#222" stroke-width="1.2"/>
<rect x="670.13" y="194.0" width="4.7" height="3.6" fill="#d40000"/>
<path d="M678.83 201.3V207.3" stroke="#222" stroke-width="1.2"/>
<rect x="676.48" y="201.7" width="4.7" height="2.0" fill="#00a800"/>
<path d="M685.19 192.7V207.1" stroke="#222" stroke-width="1.2"/>
<rect x="682.84" y="196.2" width="4.7" height="7.5" fill="#d40000"/>
<path d="M691.54 194.3V206.9" stroke="#222" stroke-width="1.2"/>
<rect x="689.19" y="197.1" width="4.7" height="6.3" fill="#00a800"/>
<path d="M697.90 187.2V206.1" stroke="#222" stroke-width="1.2"/>
<rect x="695.55" y="189.7" width="4.7" height="15.0" fill="#d40000"/>
<path d="M704.25 201.4V211.1" stroke="#222" stroke-width="1.2"/>
<rect x="701.90" y="205.3" width="4.7" height="2.4" fill="#d40000"/>
<path d="M710.61 201.8V211.4" stroke="#222" stroke-width="1.2"/>
<rect x="708.26" y="207.2" width="4.7" height="2.0" fill="#00a800"/>
<path d="M716.96 192.6V206.2" stroke="#222" stroke-width="1.2"/>
<rect x="714.61" y="193.8" width="4.7" height="10.1" fill="#00a800"/>
<path d="M723.32 187.8V196.4" stroke="#222" stroke-width="1.2"/>
<rect x="720.97" y="188.1" width="4.7" height="5.0" fill="#00a800"/>
<path d="M729.67 178.7V189.2" stroke="#222" stroke-width="1.2"/>
<rect x="727.32" y="182.1" width="4.7" height="5.5" fill="#00a800"/>
<path d="M736.03 165.0V182.2" stroke="#222" stroke-width="1.2"/>
<rect x="733.68" y="165.9" width="4.7" height="15.2" fill="#00a800"/>
<path d="M742.38 158.3V172.6" stroke="#222" stroke-width="1.2"/>
<rect x="740.03" y="170.2" width="4.7" height="2.0" fill="#d40000"/>
<path d="M748.74 174.5V185.7" stroke="#222" stroke-width="1.2"/>
<rect x="746.39" y="176.6" width="4.7" height="2.0" fill="#00a800"/>
<path d="M755.09 169.8V181.3" stroke="#222" stroke-width="1.2"/>
<rect x="752.74" y="170.2" width="4.7" height="3.8" fill="#d40000"/>
<path d="M761.45 147.8V173.9" stroke="#222" stroke-width="1.2"/>
<rect x="759.10" y="157.9" width="4.7" height="15.9" fill="#00a800"/>
<path d="M767.80 136.9V149.8" stroke="#222" stroke-width="1.2"/>
<rect x="765.45" y="143.0" width="4.7" height="2.0" fill="#00a800"/>
<path d="M774.16 137.9V154.3" stroke="#222" stroke-width="1.2"/>
<rect x="771.81" y="137.9" width="4.7" height="7.7" fill="#00a800"/>
<path d="M780.51 127.0V146.4" stroke="#222" stroke-width="1.2"/>
<rect x="778.16" y="131.2" width="4.7" height="9.2" fill="#00a800"/>
<path d="M786.87 113.1V127.1" stroke="#222" stroke-width="1.2"/>
<rect x="784.52" y="119.2" width="4.7" height="7.1" fill="#00a800"/>
<path d="M500.4 81.6Q503.5 74.2 511.5 74.2L580.0 74.2Q588.0 74.2 585.0 81.6L520.2 241.1Q517.2 248.5 509.2 248.5L462.5 248.5Q454.5 248.5 451.4 255.9L382.1 423.0L297.0 423.0L360.2 256.0Q363.0 248.5 371.0 248.5L421.5 248.5Q429.5 248.5 432.6 241.1Z" fill="url(#wm)"/>
<path d="M2.5 352.5V2.5H816.5" stroke="#a2a2a2" stroke-width="1" fill="none"/>
<path d="M2.5 352.5H816.5V2.5" stroke="#a2a2a2" stroke-width="1" fill="none"/>
<path d="M2.5 474.2V357.0H816.5" stroke="#c8c8c8" stroke-width="1" fill="none"/>
<path d="M2.5 474.2H816.5V357.0" stroke="#a2a2a2" stroke-width="1" fill="none"/>
<path d="M789.4 474.2V493.8" stroke="#8a8a8a" stroke-width="1"/>
<path d="M792 486.2L795.6 482.9V484.5H797.7V487.9H795.6V489.5Z" fill="#808080"/>
<rect x="3.6" y="358.8" width="77.2" height="17.8" fill="#dcdcdc"/>
<text x="11.4" y="372.8" font-family="Liberation Sans, sans-serif" font-weight="bold" font-size="12.2" fill="#111" textLength="61.8" lengthAdjust="spacingAndGlyphs">Volumen</text>
<text x="822" y="58.8" font-family="Liberation Sans, sans-serif" font-size="15.6" fill="#484848" textLength="49.8" lengthAdjust="spacingAndGlyphs">250.00</text>
<text x="822" y="105.2" font-family="Liberation Sans, sans-serif" font-size="15.6" fill="#484848" textLength="49.8" lengthAdjust="spacingAndGlyphs">225.00</text>
<text x="822" y="151.7" font-family="Liberation Sans, sans-serif" font-size="15.6" fill="#484848" textLength="49.8" lengthAdjust="spacingAndGlyphs">200.00</text>
<text x="822" y="198.1" font-family="Liberation Sans, sans-serif" font-size="15.6" fill="#484848" textLength="49.8" lengthAdjust="spacingAndGlyphs">175.00</text>
<text x="822" y="244.6" font-family="Liberation Sans, sans-serif" font-size="15.6" fill="#484848" textLength="49.8" lengthAdjust="spacingAndGlyphs">150.00</text>
<text x="822" y="291.0" font-family="Liberation Sans, sans-serif" font-size="15.6" fill="#484848" textLength="49.8" lengthAdjust="spacingAndGlyphs">125.00</text>
<text x="822" y="337.5" font-family="Liberation Sans, sans-serif" font-size="15.6" fill="#484848" textLength="49.8" lengthAdjust="spacingAndGlyphs">100.00</text>
<text x="821.7" y="391.8" font-family="Liberation Sans, sans-serif" font-size="15.6" fill="#484848" textLength="53.3" lengthAdjust="spacingAndGlyphs">200.0M</text>
<text x="821.7" y="413.9" font-family="Liberation Sans, sans-serif" font-size="15.6" fill="#484848" textLength="53.3" lengthAdjust="spacingAndGlyphs">150.0M</text>
<text x="821.7" y="436.0" font-family="Liberation Sans, sans-serif" font-size="15.6" fill="#484848" textLength="53.3" lengthAdjust="spacingAndGlyphs">100.0M</text>
<text x="821.7" y="458.1" font-family="Liberation Sans, sans-serif" font-size="15.6" fill="#484848" textLength="44.3" lengthAdjust="spacingAndGlyphs">50.0M</text>
<path d="M814.4 119.1L820.6 114.5V112Q820.6 110.5 822.1 110.5H873.2Q874.7 110.5 874.7 112V125.9Q874.7 127.4 873.2 127.4H822.1Q820.6 127.4 820.6 125.9V123.6Z" fill="#c8c834"/>
<text x="822.4" y="125.5" font-family="Liberation Sans, sans-serif" font-size="15.6" fill="#2a2a18" textLength="49.5" lengthAdjust="spacingAndGlyphs">213.97</text>
<text x="7.5" y="492.9" font-family="Liberation Sans, sans-serif" font-size="15.6" fill="#484848" textLength="51.1" lengthAdjust="spacingAndGlyphs">Dez 12</text>
<text x="70.6" y="492.9" font-family="Liberation Sans, sans-serif" font-size="15.6" fill="#484848" textLength="51.1" lengthAdjust="spacingAndGlyphs">Dez 26</text>
<text x="128.9" y="492.9" font-family="Liberation Sans, sans-serif" font-size="15.6" fill="#484848" textLength="38.1" lengthAdjust="spacingAndGlyphs">Jan 9</text>
<text x="180.7" y="492.9" font-family="Liberation Sans, sans-serif" font-size="15.6" fill="#484848" textLength="47.0" lengthAdjust="spacingAndGlyphs">Jan 23</text>
<text x="247.9" y="492.9" font-family="Liberation Sans, sans-serif" font-size="15.6" fill="#484848" textLength="40.2" lengthAdjust="spacingAndGlyphs">Feb 6</text>
<text x="307.7" y="492.9" font-family="Liberation Sans, sans-serif" font-size="15.6" fill="#484848" textLength="49.5" lengthAdjust="spacingAndGlyphs">Feb 20</text>
<text x="369.1" y="492.9" font-family="Liberation Sans, sans-serif" font-size="15.6" fill="#484848" textLength="40.2" lengthAdjust="spacingAndGlyphs">Mär 6</text>
<text x="428.1" y="492.9" font-family="Liberation Sans, sans-serif" font-size="15.6" fill="#484848" textLength="48.7" lengthAdjust="spacingAndGlyphs">Mär 20</text>
<text x="497.3" y="492.9" font-family="Liberation Sans, sans-serif" font-size="15.6" fill="#484848" textLength="38.2" lengthAdjust="spacingAndGlyphs">Apr 3</text>
<text x="549.7" y="492.9" font-family="Liberation Sans, sans-serif" font-size="15.6" fill="#484848" textLength="47.3" lengthAdjust="spacingAndGlyphs">Apr 17</text>
<text x="617.5" y="492.9" font-family="Liberation Sans, sans-serif" font-size="15.6" fill="#484848" textLength="37.5" lengthAdjust="spacingAndGlyphs">Mai 1</text>
<text x="675.5" y="492.9" font-family="Liberation Sans, sans-serif" font-size="15.6" fill="#484848" textLength="49.4" lengthAdjust="spacingAndGlyphs">Mai 15</text>
<rect x="485.6" y="271.4" width="317.6" height="60" fill="#c8c8c8" fill-opacity="0.62"/>
<text x="493.9" y="287.6" font-family="Liberation Sans, sans-serif" font-weight="bold" font-size="12.5" fill="#111" textLength="97.5" lengthAdjust="spacingAndGlyphs">TSLA@SMART</text>
<circle cx="601.2" cy="283" r="3.1" fill="#6c9cd4" stroke="#24487c" stroke-width="1"/><path d="M600.9000000000001 280.4A2.7 2.7 0 0 1 603.8000000000001 283.3L602.0 283.2Q601.8000000000001 282 600.9000000000001 281.9Z" fill="#c4dcf4"/><path d="M598.8000000000001 283.6Q600.6 283.2 601.6 285.2" stroke="#24487c" stroke-width="0.7" fill="none"/>
<path d="M493.9 300.8H499.9M502.5 300.8H509.2" stroke="#333" stroke-width="1.5"/>
<text x="513" y="305.7" font-family="Liberation Sans, sans-serif" font-size="13" fill="#333" textLength="150" lengthAdjust="spacingAndGlyphs">Vorheriger Schlusskurs</text>
<rect x="668.6" y="298" width="7" height="7" fill="#f4f4fa" stroke="#d8d8e4" stroke-width="0.6"/>
<path d="M493.9 320.9H509.2" stroke="#336600" stroke-width="1.6"/>
<text x="513" y="326.1" font-family="Liberation Sans, sans-serif" font-size="13" fill="#333" textLength="55.1" lengthAdjust="spacingAndGlyphs">EMA(20)</text>
<rect x="573.5999999999999" y="318.4" width="6" height="6" rx="1" fill="#eef0f8"/><path d="M574.5999999999999 321.2L576.1999999999999 323L579.1999999999999 319.2" stroke="#1a60e0" stroke-width="1.6" fill="none"/>
<circle cx="588.3" cy="321" r="3.1" fill="#6c9cd4" stroke="#24487c" stroke-width="1"/><path d="M588.0 318.4A2.7 2.7 0 0 1 590.9 321.3L589.0999999999999 321.2Q588.9 320 588.0 319.9Z" fill="#c4dcf4"/><path d="M585.9 321.6Q587.6999999999999 321.2 588.6999999999999 323.2" stroke="#24487c" stroke-width="0.7" fill="none"/>
<path d="M592.5 320.9H608.6" stroke="#e86010" stroke-width="1.6"/>
<text x="612.4" y="326.1" font-family="Liberation Sans, sans-serif" font-size="13" fill="#333" textLength="63.3" lengthAdjust="spacingAndGlyphs">SMA(200)</text>
<rect x="681.1999999999999" y="318.4" width="6" height="6" rx="1" fill="#eef0f8"/><path d="M682.1999999999999 321.2L683.8 323L686.8 319.2" stroke="#1a60e0" stroke-width="1.6" fill="none"/>
<circle cx="696.2" cy="321" r="3.1" fill="#6c9cd4" stroke="#24487c" stroke-width="1"/><path d="M695.9000000000001 318.4A2.7 2.7 0 0 1 698.8000000000001 321.3L697.0 321.2Q696.8000000000001 320 695.9000000000001 319.9Z" fill="#c4dcf4"/><path d="M693.8000000000001 321.6Q695.6 321.2 696.6 323.2" stroke="#24487c" stroke-width="0.7" fill="none"/>
<path d="M700.5 320.9H717" stroke="#0000c0" stroke-width="1.6"/>
<text x="720.7" y="326.1" font-family="Liberation Sans, sans-serif" font-size="13" fill="#333" textLength="55.5" lengthAdjust="spacingAndGlyphs">SMA(50)</text>
<rect x="781.4" y="318.4" width="6" height="6" rx="1" fill="#eef0f8"/><path d="M782.4 321.2L784.0 323L787.0 319.2" stroke="#1a60e0" stroke-width="1.6" fill="none"/>
<circle cx="796.5" cy="321" r="3.1" fill="#6c9cd4" stroke="#24487c" stroke-width="1"/><path d="M796.2 318.4A2.7 2.7 0 0 1 799.1 321.3L797.3 321.2Q797.1 320 796.2 319.9Z" fill="#c4dcf4"/><path d="M794.1 321.6Q795.9 321.2 796.9 323.2" stroke="#24487c" stroke-width="0.7" fill="none"/>
</svg></body></html>
